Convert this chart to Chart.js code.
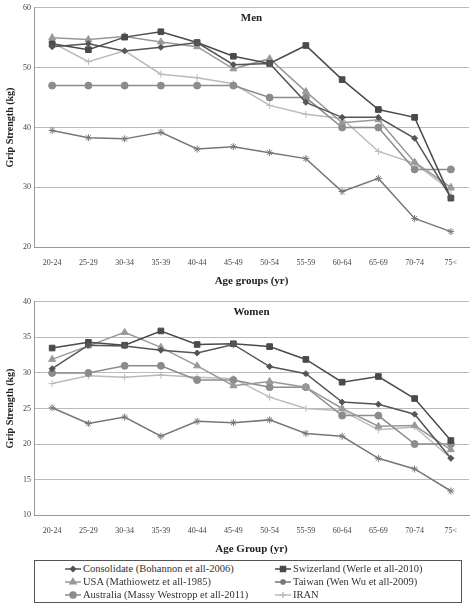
<!DOCTYPE html>
<html><head><meta charset="utf-8">
<script src="https://cdn.jsdelivr.net/npm/chart.js@4"></script>
<style>
body{margin:0;background:#fff;width:474px;height:605px;position:relative;font-family:"Liberation Serif",serif;overflow:hidden}
#c1{position:absolute;left:0;top:0}
#c2{position:absolute;left:0;top:294px}
#leg{position:absolute;left:34px;top:560px;width:426px;height:41px;border:1px solid #555;font-size:10.5px;color:#333}
.it{position:absolute;display:flex;align-items:center;height:13px}
.it canvas{margin-right:2px}
</style></head><body>
<canvas id="c1" width="474" height="292"></canvas>
<canvas id="c2" width="474" height="266"></canvas>
<div id="leg"></div>
<script>
const ageMen=["20-24","25-29","30-34","35-39","40-44","45-49","50-54","55-59","60-64","65-69","70-74","75<"];
const names=["Consolidate (Bohannon et all-2006)","Swizerland (Werle et all-2010)","USA (Mathiowetz et all-1985)","Taiwan (Wen Wu et all-2009)","Australia (Massy Westropp et all-2011)","IRAN"];
const menConsolidate=[53.5,54,52.8,53.4,54.2,50.5,50.7,44.2,41.7,41.7,38.2,28.3];
const menSwiss=[54,53,55.1,56,54.2,51.9,50.7,53.7,48,43,41.7,28.2];
const menUSA=[55,54.7,55.2,54.3,53.5,49.8,51.5,46,40.8,41.3,34.2,30];
const menTaiwan=[39.5,38.3,38.1,39.2,36.4,36.8,35.8,34.8,29.3,31.5,24.8,22.6];
const menAustralia=[47,47,47,47,47,47,45,45,40,40,33,33];
const menIran=[54.2,51,52.8,48.9,48.3,47.3,43.7,42.2,41.5,36,34,29.5];
const womenConsolidate=[30.6,33.9,33.8,33.2,32.8,34,30.9,29.9,25.9,25.6,24.2,18];
const womenSwiss=[33.5,34.3,33.9,35.9,34,34.1,33.7,31.9,28.7,29.5,26.4,20.5];
const womenUSA=[31.9,33.8,35.7,33.6,31,28.2,28.8,28,25,22.5,22.6,19.2];
const womenTaiwan=[25.1,22.9,23.8,21.1,23.2,23,23.4,21.5,21.1,18,16.5,13.4];
const womenAustralia=[30,30,31,31,29,29,28,28,24,24,20,20];
const womenIran=[28.5,29.6,29.4,29.7,29.4,29.2,26.6,25,24.7,22,22.4,18];
const styles=[
 {c:"#555",p:"rectRot",r:3},
 {c:"#4a4a4a",p:"rect",r:4},
 {c:"#999",p:"triangle",r:4},
 {c:"#777",p:"star",r:3.5},
 {c:"#8c8c8c",p:"circle",r:3.5},
 {c:"#bbb",p:"cross",r:3.5}];
function ds(arrs){return arrs.map((d,i)=>({label:names[i],data:d,borderColor:styles[i].c,backgroundColor:styles[i].c,pointStyle:styles[i].p,pointRadius:styles[i].r,borderWidth:1.5,pointBorderWidth:1,tension:0}));}
const titlePlug={id:'tp',afterDraw(ch,a,o){const c=ch.ctx,ca=ch.chartArea;c.save();c.font='bold 11px "Liberation Serif"';c.fillStyle='#222';c.textAlign='center';c.fillText(o.text,(ca.left+ca.right)/2,ca.top+13);c.restore();}};
function mk(id,arrs,title,min,max,step,xt,pad){
 new Chart(document.getElementById(id),{type:'line',data:{labels:ageMen,datasets:ds(arrs)},plugins:[titlePlug],
 options:{responsive:false,animation:false,layout:{padding:pad},
  plugins:{legend:{display:false},tooltip:{enabled:false},tp:{text:title}},
  scales:{
   x:{offset:true,grid:{display:false},border:{color:'#999'},ticks:{font:{family:'Liberation Serif',size:8},color:'#444',maxRotation:0,autoSkip:false},
      title:{display:true,text:xt,font:{family:'Liberation Serif',size:11,weight:'bold'},color:'#222'}},
   y:{min:min,max:max,ticks:{stepSize:step,font:{family:'Liberation Serif',size:8},color:'#444'},grid:{color:'#bbb',drawTicks:false},border:{color:'#999'},
      title:{display:true,text:'Grip Strength (kg)',font:{family:'Liberation Serif',size:10,weight:'bold'},color:'#222'}}
  }}});
}
mk('c1',[menConsolidate,menSwiss,menUSA,menTaiwan,menAustralia,menIran],'Men',20,60,10,'Age groups (yr)',{top:4,right:2,left:0,bottom:0});
mk('c2',[womenConsolidate,womenSwiss,womenUSA,womenTaiwan,womenAustralia,womenIran],'Women',10,40,5,'Age Group (yr)',{top:6,right:2,left:0,bottom:0});
const leg=document.getElementById('leg');
const pos=[[30,3],[240,3],[30,16],[240,16],[30,29],[240,29]];
names.forEach((n,i)=>{const d=document.createElement('div');d.className='it';d.style.left=pos[i][0]+'px';d.style.top=(pos[i][1]-2)+'px';
 const cv=document.createElement('canvas');cv.width=16;cv.height=12;const c=cv.getContext('2d');
 c.strokeStyle=styles[i].c;c.fillStyle=styles[i].c;c.lineWidth=1.5;c.beginPath();c.moveTo(0,6);c.lineTo(16,6);c.stroke();
 Chart.helpers.drawPoint(c,{pointStyle:styles[i].p,radius:styles[i].r-0.5,rotation:0,borderWidth:1},8,6);
 d.appendChild(cv);const s=document.createElement('span');s.textContent=n;d.appendChild(s);leg.appendChild(d);});
</script></body></html>
